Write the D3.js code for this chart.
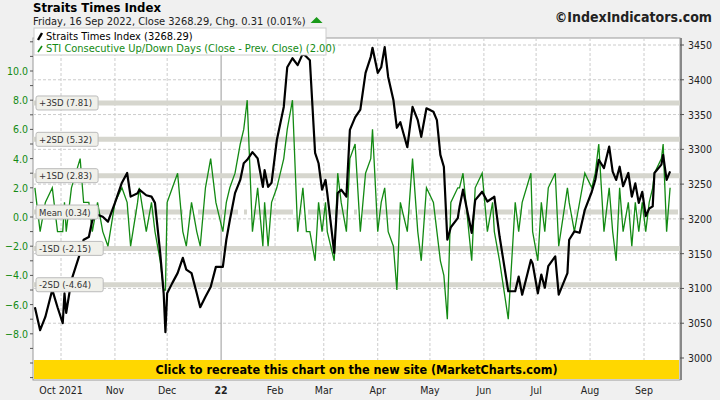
<!DOCTYPE html>
<html><head><meta charset="utf-8">
<script src="https://cdn.jsdelivr.net/npm/d3@7"></script>
<style>body{margin:0;background:#f0f0f0;}svg{display:block;font-family:Tahoma,"DejaVu Sans Condensed","Liberation Sans",sans-serif;}</style>
</head><body><div id="chart"></div>
<script>
// chart data
const dates = ["2021-09-16","2021-09-19","2021-09-22","2021-09-26","2021-09-29","2021-10-02","2021-10-03","2021-10-04","2021-10-07","2021-10-12",
"2021-10-14","2021-10-17","2021-10-19","2021-10-22","2021-10-25","2021-10-28","2021-11-01","2021-11-05","2021-11-08","2021-11-10",
"2021-11-14","2021-11-15","2021-11-19","2021-11-22","2021-11-24","2021-11-27","2021-11-29","2021-11-30","2021-12-01","2021-12-04",
"2021-12-07","2021-12-10","2021-12-12","2021-12-15","2021-12-18","2021-12-20","2021-12-23","2021-12-26","2021-12-29","2022-01-02",
"2022-01-04","2022-01-06","2022-01-09","2022-01-12","2022-01-14","2022-01-16","2022-01-19","2022-01-22","2022-01-25","2022-01-26",
"2022-01-28","2022-01-30","2022-02-02","2022-02-06","2022-02-08","2022-02-11","2022-02-14","2022-02-17","2022-02-19","2022-02-21",
"2022-02-24","2022-02-26","2022-02-28","2022-03-02","2022-03-03","2022-03-07","2022-03-09","2022-03-11","2022-03-14","2022-03-16",
"2022-03-19","2022-03-22","2022-03-25","2022-03-28","2022-03-29","2022-04-01","2022-04-03","2022-04-05","2022-04-07","2022-04-10",
"2022-04-12","2022-04-14","2022-04-18","2022-04-21","2022-04-24","2022-04-26","2022-04-29","2022-05-03","2022-05-05","2022-05-07",
"2022-05-09","2022-05-11","2022-05-13","2022-05-17","2022-05-18","2022-05-20","2022-05-25","2022-05-27","2022-05-31","2022-06-03",
"2022-06-06","2022-06-07","2022-06-10","2022-06-15","2022-06-19","2022-06-21","2022-06-23","2022-06-28","2022-06-29","2022-07-02",
"2022-07-04","2022-07-06","2022-07-08","2022-07-12","2022-07-14","2022-07-19","2022-07-20","2022-07-23","2022-07-26","2022-07-29",
"2022-08-02","2022-08-04","2022-08-06","2022-08-09","2022-08-12","2022-08-14","2022-08-16","2022-08-18","2022-08-20","2022-08-23",
"2022-08-25","2022-08-27","2022-08-29","2022-08-31","2022-09-02","2022-09-04","2022-09-06","2022-09-07","2022-09-11","2022-09-12",
"2022-09-14","2022-09-16"];
const sti = [3073,3040,3059,3098,3073,3050,3093,3065,3112,3151,
3170,3174,3198,3206,3203,3196,3223,3252,3266,3232,
3237,3242,3234,3232,3223,3151,3093,3037,3093,3108,
3122,3144,3127,3122,3093,3073,3088,3102,3131,3131,
3170,3198,3237,3256,3280,3285,3296,3287,3246,3270,
3246,3252,3313,3361,3418,3431,3421,3438,3433,3428,
3295,3280,3242,3256,3237,3151,3237,3242,3232,3328,
3346,3357,3410,3433,3446,3410,3418,3447,3404,3371,
3331,3339,3303,3361,3342,3318,3359,3354,3342,3292,
3275,3170,3188,3201,3217,3242,3180,3227,3239,3225,
3230,3232,3175,3096,3096,3117,3091,3141,3136,3093,
3120,3101,3132,3146,3091,3122,3170,3182,3180,3213,
3239,3256,3285,3273,3304,3268,3256,3275,3247,3266,
3232,3251,3223,3239,3204,3215,3218,3266,3278,3292,
3256,3268.29];
const upDown = [2,-1,1,2,-1,-1,1,-1,2,4,
1,1,-1,1,-1,-2,1,2,1,-2,
1,2,-1,1,-1,-3,-5,-5,1,2,
3,-1,-2,1,-1,-2,2,4,1,-1,
1,2,3,5,6,8,-1,2,-2,1,
-2,1,2,4,6,8,-1,2,-1,-1,
-3,1,-1,1,-1,-3,3,1,-1,4,
5,-1,3,4,6,-1,1,2,-1,-2,
-5,1,-1,4,-1,-3,2,1,-1,-3,
-4,-7,1,2,2,3,-3,2,3,-1,
1,-1,-3,-7,1,-1,1,3,-1,-3,
1,-1,2,3,-2,2,1,-1,1,3,
2,3,5,-1,2,-1,-3,2,-1,1,
-2,1,-1,1,-1,1,2,3,4,5,
-1,2];
const bandValues = [7.81,5.32,2.83,0.34,-2.15,-4.64];
const bandLabels = ["+3SD (7.81)","+2SD (5.32)","+1SD (2.83)","Mean (0.34)","-1SD (-2.15)","-2SD (-4.64)"];
const leftTicks = [10,8,6,4,2,0,-2,-4,-6,-8];
const rightTicks = [3000,3050,3100,3150,3200,3250,3300,3350,3400,3450];
const monthTicks = ["2021-10-01","2021-11-01","2021-12-01","2022-01-01","2022-02-01","2022-03-01","2022-04-01","2022-05-01","2022-06-01","2022-07-01","2022-08-01","2022-09-01"];
const monthLabels = ["Oct 2021","Nov","Dec","22","Feb","Mar","Apr","May","Jun","Jul","Aug","Sep"];

const W = 720, H = 400;
const L = 33, R = 680, T = 38, B = 380;
const parse = d3.timeParse("%Y-%m-%d");
const green = "#138a13";

const svg = d3.select("#chart").append("svg").attr("width", W).attr("height", H);
svg.append("rect").attr("width", W).attr("height", H).attr("fill", "#f0f0f0");
svg.append("rect").attr("x", L).attr("y", T).attr("width", R - L).attr("height", B - T)
  .attr("fill", "#fff").attr("stroke", "#999");

const x = d3.scaleTime().domain([parse("2021-10-01"), parse("2022-09-01")]).range([61, 644]);
const yL = d3.scaleLinear().domain([0, 10]).range([217, 71]);
const yR = d3.scaleLinear().domain([3000, 3450]).range([358, 45]);

// grid
svg.append("g").selectAll("line").data(rightTicks.slice(1)).join("line")
  .attr("x1", L).attr("x2", R).attr("y1", d => yR(d)).attr("y2", d => yR(d))
  .attr("stroke", "#ccc").attr("stroke-dasharray", "3,2");
svg.append("g").selectAll("line").data(monthTicks).join("line")
  .attr("x1", d => x(parse(d))).attr("x2", d => x(parse(d))).attr("y1", T).attr("y2", B)
  .attr("stroke", (d, i) => i === 3 ? "#999" : "#ccc")
  .attr("stroke-dasharray", (d, i) => i === 3 ? null : "3,2");

// SD bands
svg.append("g").selectAll("line").data(bandValues).join("line")
  .attr("x1", L).attr("x2", R).attr("y1", d => yL(d)).attr("y2", d => yL(d))
  .attr("stroke", "#d6d6ce").attr("stroke-width", 5)
  .attr("stroke-dasharray", (d, i) => i === 3 ? "40,6,3,6" : null);

// series
const gLine = d3.line().x((d, i) => x(parse(dates[i]))).y(d => yL(d));
svg.append("path").datum(upDown).attr("d", gLine).attr("fill", "none")
  .attr("stroke", green).attr("stroke-width", 1.3);
const pLine = d3.line().x((d, i) => x(parse(dates[i]))).y(d => yR(d));
svg.append("path").datum(sti).attr("d", pLine).attr("fill", "none")
  .attr("stroke", "#000").attr("stroke-width", 2.2).attr("stroke-linejoin", "round");

// band labels
const bl = svg.append("g").selectAll("g").data(bandValues).join("g")
  .attr("transform", d => `translate(36,${yL(d)})`);
bl.append("rect").attr("x", 0).attr("y", -7).attr("height", 14)
  .attr("width", (d, i) => bandLabels[i].length * 5.1 + 6)
  .attr("fill", "#f0f0ea").attr("stroke", "#bbb").attr("rx", 2);
bl.append("text").attr("x", 3).attr("y", 3.5).attr("font-size", 9.5).attr("fill", "#333")
  .text((d, i) => bandLabels[i]);

// banner
svg.append("rect").attr("x", L + 1).attr("y", 360).attr("width", R - L - 2).attr("height", 19).attr("fill", "#ffd700");
svg.append("text").attr("x", (L + R) / 2).attr("y", 374).attr("text-anchor", "middle")
  .attr("font-size", 12.5).attr("font-weight", "bold").text("Click to recreate this chart on the new site (MarketCharts.com)");

// axes
svg.append("g").selectAll("text").data(leftTicks).join("text")
  .attr("x", 28).attr("y", d => yL(d) + 4).attr("text-anchor", "end")
  .attr("font-size", 10.5).attr("fill", green).text(d => d3.format(".1f")(d));
svg.append("g").selectAll("line").data(d3.range(-11, 13)).join("line")
  .attr("x1", L - 3).attr("x2", L).attr("y1", d => yL(d)).attr("y2", d => yL(d)).attr("stroke", "#555");
svg.append("rect").attr("x", R).attr("y", T).attr("width", 2).attr("height", B - T).attr("fill", "#888");
svg.append("g").selectAll("text").data(rightTicks).join("text")
  .attr("x", 688).attr("y", d => yR(d) + 4).attr("font-size", 10.5).attr("fill", "#222").text(d => d);
svg.append("g").selectAll("line").data(rightTicks).join("line")
  .attr("x1", R).attr("x2", R + 4).attr("y1", d => yR(d)).attr("y2", d => yR(d)).attr("stroke", "#555");
svg.append("g").selectAll("text").data(monthTicks).join("text")
  .attr("x", d => x(parse(d))).attr("y", 394).attr("text-anchor", "middle")
  .attr("font-size", 10.5).attr("font-weight", (d, i) => i === 3 ? "bold" : null)
  .attr("fill", "#222").text((d, i) => monthLabels[i]);

// header
svg.append("text").attr("x", 33).attr("y", 12).attr("font-size", 13).attr("font-weight", "bold").text("Straits Times Index");
const sub = svg.append("text").attr("x", 33).attr("y", 24.5).attr("font-size", 11).attr("fill", "#222")
  .text("Friday, 16 Sep 2022, Close 3268.29, Chg. 0.31 (0.01%)");
const tx = 33 + sub.node().getComputedTextLength() + 5;
svg.append("path").attr("d", `M${tx},23 L${tx + 6},17 L${tx + 12},23 Z`).attr("fill", "#1a9a1a");
svg.append("text").attr("x", 712).attr("y", 22).attr("text-anchor", "end")
  .attr("font-size", 14).attr("font-weight", "bold").attr("fill", "#222").text("©IndexIndicators.com");

// legend
const lg = svg.append("g");
lg.append("rect").attr("x", 34).attr("y", 28).attr("width", 292).attr("height", 27).attr("fill", "#fff").attr("stroke", "#ccc");
lg.append("line").attr("x1", 38).attr("y1", 40).attr("x2", 42).attr("y2", 33).attr("stroke", "#000").attr("stroke-width", 2.4);
lg.append("text").attr("x", 46).attr("y", 40).attr("font-size", 11).text("Straits Times Index (3268.29)");
lg.append("line").attr("x1", 38).attr("y1", 52).attr("x2", 42).attr("y2", 46).attr("stroke", green).attr("stroke-width", 1.6);
lg.append("text").attr("x", 46).attr("y", 52).attr("font-size", 11).attr("fill", green)
  .text("STI Consecutive Up/Down Days (Close - Prev. Close) (2.00)");
</script></body></html>
